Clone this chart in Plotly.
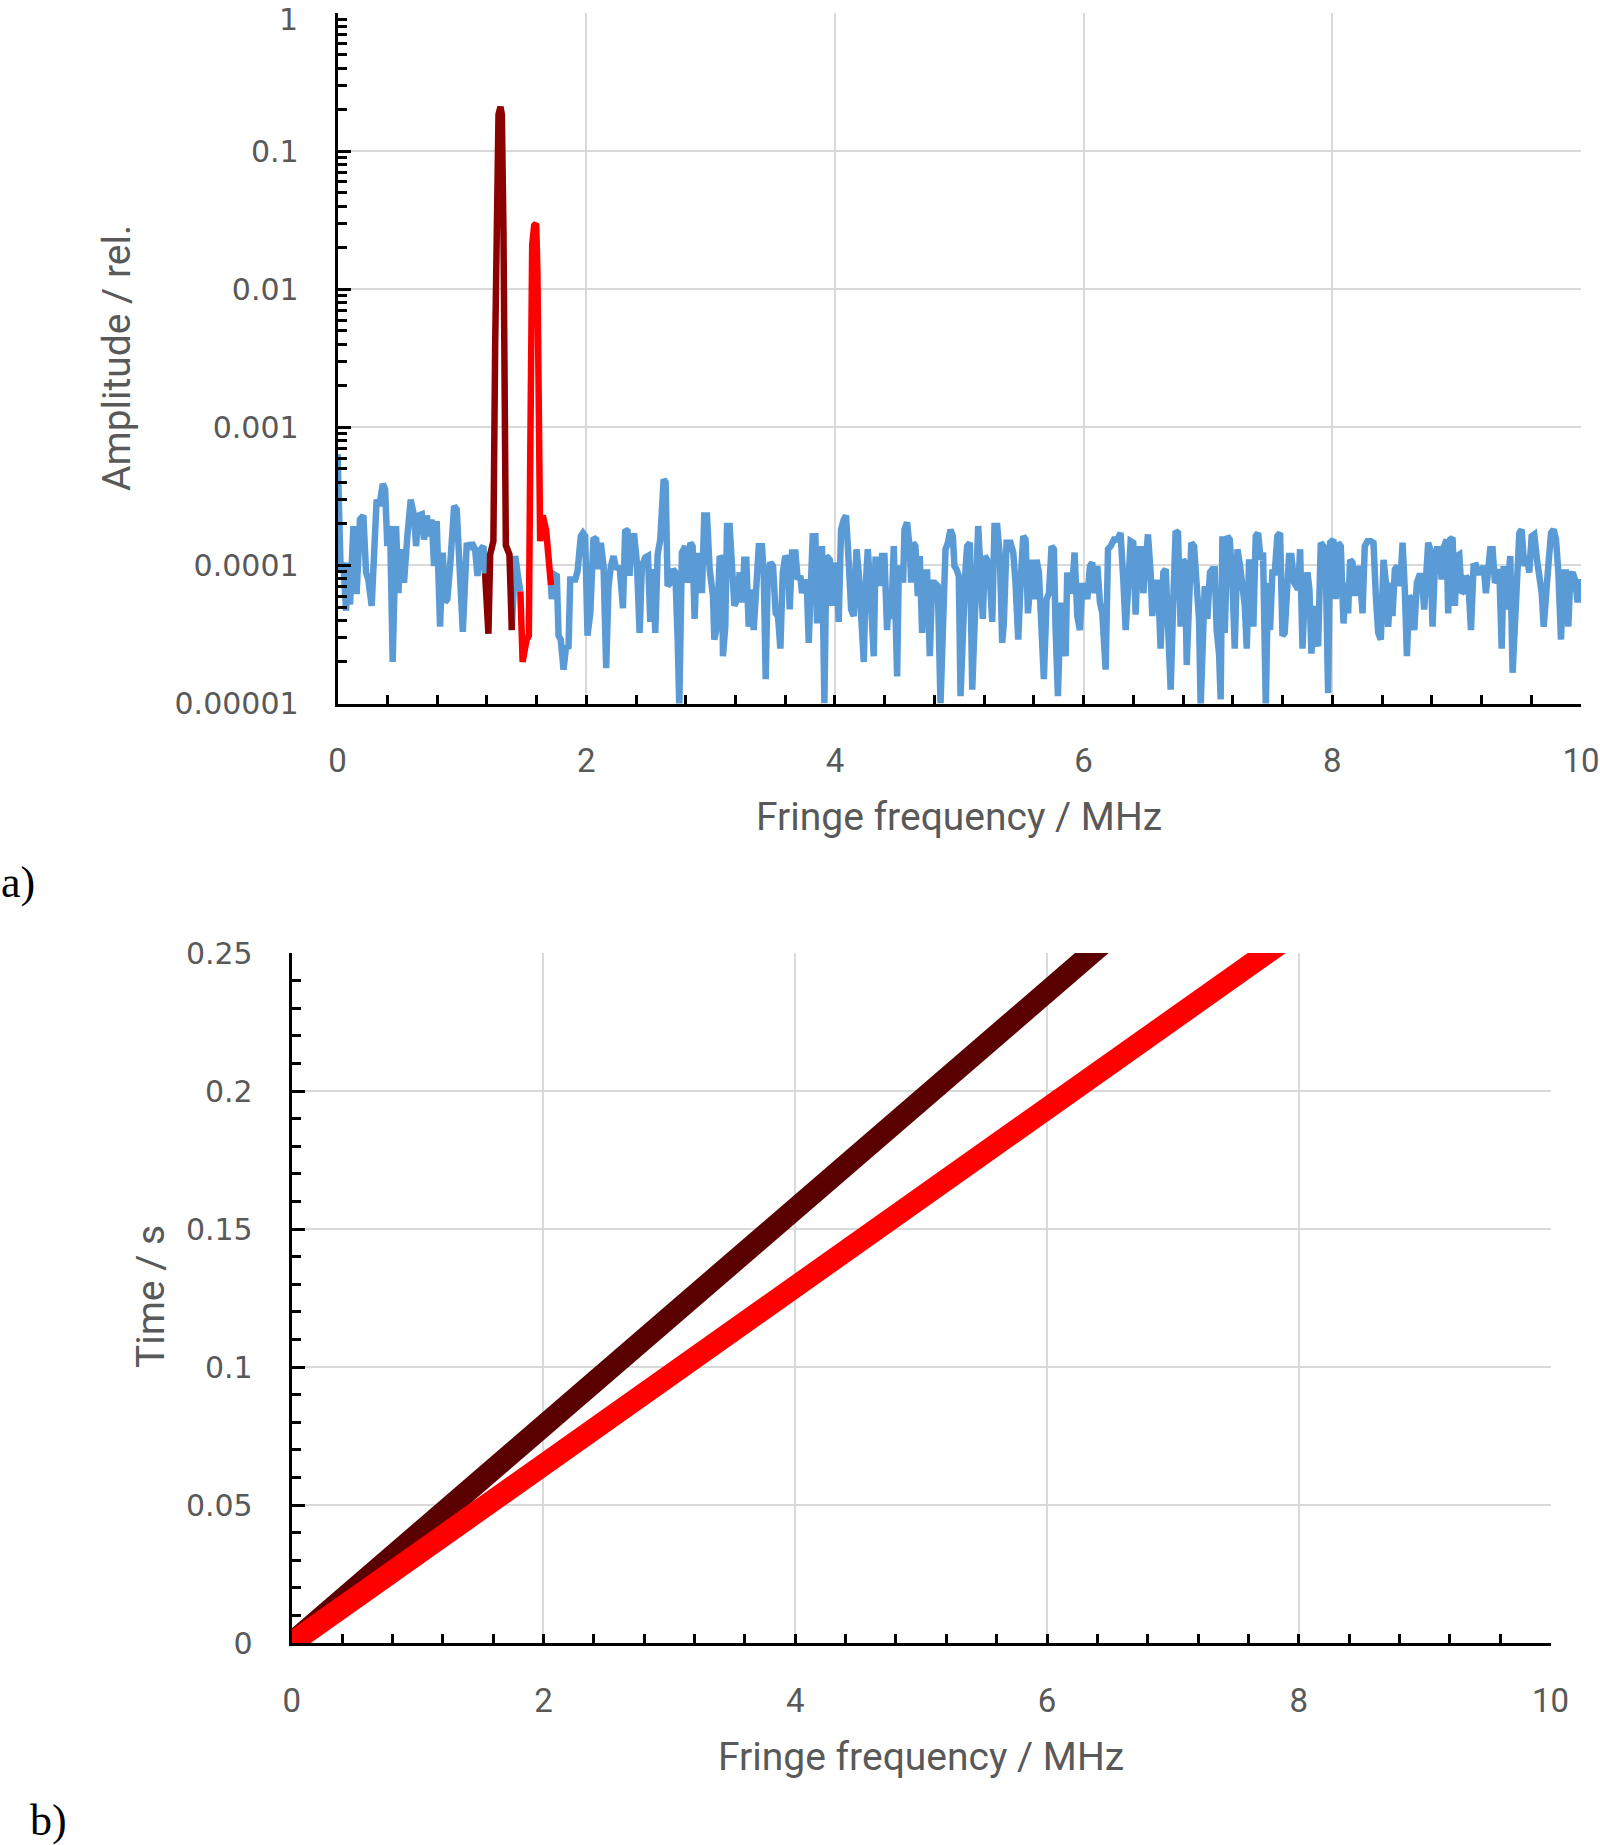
import plotly.graph_objects as go

# ---------------- Panel a) spectrum data (frequency in MHz, amplitude relative) ----------------
noise_freq_1 = [0.000, 0.025, 0.046, 0.068, 0.086, 0.100, 0.127, 0.153, 0.180, 0.207, 0.229, 0.247, 0.274, 0.301,
                0.314, 0.336, 0.363, 0.382, 0.400, 0.422, 0.443, 0.470, 0.489, 0.508, 0.534, 0.561, 0.588, 0.615,
                0.631, 0.650, 0.677, 0.695, 0.717, 0.738, 0.757, 0.776, 0.797, 0.824, 0.846, 0.864, 0.883, 0.905,
                0.937, 0.958, 0.980, 1.007, 1.039, 1.060, 1.079, 1.106, 1.125, 1.152, 1.173, 1.186]
noise_amp_1 = [6.4e-4, 8.9e-5, 1.05e-4, 4.7e-5, 1.05e-4, 5.2e-5, 1.93e-4, 6.2e-5, 2.15e-4, 2.3e-4, 8.9e-5, 7.9e-5,
               5.1e-5, 2.8e-4, 3.0e-4, 2.7e-4, 3.9e-4, 3.56e-4, 1.38e-4, 1.93e-4, 2.0e-5, 1.93e-4, 6.3e-5, 1.31e-4,
               7.5e-5, 1.63e-4, 3.0e-4, 2.3e-4, 1.38e-4, 2.3e-4, 2.35e-4, 1.54e-4, 2.3e-4, 1.63e-4, 2.15e-4, 9.9e-5,
               2.1e-4, 3.6e-5, 1.24e-4, 5.4e-5, 5.7e-5, 9.9e-5, 2.7e-4, 2.55e-4, 7.9e-5, 3.3e-5, 1.46e-4, 1.31e-4,
               1.46e-4, 1.31e-4, 8.4e-5, 1.31e-4, 1.38e-4, 8.8e-5]

noise_freq_2 = [1.401, 1.428, 1.455, 1.470]
noise_amp_2 = [3.4e-5, 1.17e-4, 7.9e-5, 6.5e-5]

noise_freq_3 = [1.716, 1.723, 1.742, 1.763, 1.777, 1.795, 1.817, 1.838, 1.857, 1.871,
                1.911, 1.930, 1.956, 1.973, 1.991, 2.010, 2.032, 2.058, 2.080, 2.099,
                2.117, 2.139, 2.160, 2.179, 2.198, 2.219, 2.241, 2.268, 2.295, 2.313,
                2.332, 2.348, 2.367, 2.386, 2.407, 2.429, 2.447, 2.474, 2.496, 2.515,
                2.536, 2.555, 2.574, 2.595, 2.622, 2.638, 2.654, 2.676, 2.697, 2.716,
                2.735, 2.748, 2.769, 2.796, 2.815, 2.837, 2.855, 2.871, 2.890, 2.912,
                2.930, 2.949, 2.971, 2.992, 3.019, 3.030, 3.051, 3.073, 3.091, 3.099,
                3.118, 3.132, 3.153, 3.172, 3.191, 3.212, 3.234, 3.255, 3.271, 3.287,
                3.306, 3.325, 3.346, 3.368, 3.387, 3.413, 3.427, 3.443, 3.459, 3.480,
                3.502, 3.523, 3.542, 3.561, 3.580, 3.601, 3.620, 3.636, 3.655, 3.682,
                3.700, 3.722, 3.735, 3.754, 3.776, 3.789, 3.802, 3.821, 3.843, 3.856,
                3.878, 3.896, 3.915, 3.931, 3.958]
noise_amp_3 = [7.2e-5, 5.7e-5, 8.6e-5, 8.4e-5, 3.1e-5, 2.9e-5, 1.76e-5, 2.6e-5, 2.5e-5, 7.9e-5,
               7.9e-5, 9.1e-5, 1.63e-4, 1.72e-4, 1.63e-4, 3.1e-5, 4.5e-5, 1.59e-4, 1.54e-4, 9.4e-5,
               1.46e-4, 9.9e-5, 1.8e-5, 7.1e-5, 9.9e-5, 1.17e-4, 9.4e-5, 9.9e-5, 4.9e-5, 1.82e-4,
               1.77e-4, 8.4e-5, 1.63e-4, 1.63e-4, 1.05e-4, 3.25e-5, 9.9e-5, 1.14e-4, 1.17e-4, 3.9e-5,
               9.4e-5, 3.25e-5, 1.2e-4, 1.54e-4, 4.2e-4, 4.0e-4, 7.1e-5, 7.5e-5, 9.4e-5, 8.9e-5,
               2.9e-5, 9.5e-6, 1.24e-4, 1.38e-4, 7.5e-5, 1.46e-4, 1.38e-4, 4.1e-5, 1.17e-4, 1.17e-4,
               6.3e-5, 2.3e-4, 2.3e-4, 9.4e-5, 6.0e-5, 2.9e-5, 3.6e-5, 1.17e-4, 1.1e-4, 2.2e-5,
               3.6e-5, 1.93e-4, 1.93e-4, 1.05e-4, 5.1e-5, 5.7e-5, 8.9e-5, 5.4e-5, 1.1e-4, 1.1e-4,
               3.6e-5, 6.7e-5, 3.4e-5, 7.1e-5, 1.38e-4, 1.38e-4, 8.9e-5, 1.5e-5, 7.9e-5, 1.05e-4,
               9.9e-5, 4.5e-5, 4.3e-5, 2.5e-5, 8.9e-5, 1.17e-4, 1.1e-4, 4.8e-5, 1.24e-4, 1.24e-4,
               7.9e-5, 8.4e-5, 6.3e-5, 7.9e-5, 6.3e-5, 2.75e-5, 8.9e-5, 1.63e-4, 1.63e-4, 3.8e-5,
               1.31e-4, 1.31e-4, 1.0e-5, 1.17e-4, 1.1e-4]

noise_freq_4 = [3.977, 3.996, 4.012, 4.030, 4.049, 4.071, 4.089, 4.111, 4.130, 4.151,
                4.173, 4.191, 4.210, 4.232, 4.245, 4.264, 4.280, 4.299, 4.312, 4.326,
                4.344, 4.366, 4.379, 4.398, 4.419, 4.433, 4.452, 4.473, 4.487, 4.500,
                4.513, 4.532, 4.548, 4.559, 4.580, 4.602, 4.613, 4.629, 4.647, 4.666,
                4.682, 4.701, 4.720, 4.741, 4.763, 4.782, 4.800, 4.827, 4.849, 4.862,
                4.881, 4.889, 4.908, 4.929, 4.948, 4.961, 4.977, 4.996, 5.010, 5.031,
                5.050, 5.063, 5.085, 5.104, 5.122, 5.136, 5.152, 5.171, 5.189, 5.206,
                5.224, 5.246, 5.265, 5.283, 5.305, 5.326, 5.345, 5.358, 5.380, 5.412,
                5.434, 5.452, 5.474, 5.493, 5.514, 5.533, 5.552, 5.573, 5.587, 5.600,
                5.621, 5.640, 5.659, 5.680, 5.702, 5.721, 5.742, 5.761, 5.774, 5.793,
                5.815, 5.836, 5.855, 5.868, 5.890, 5.909, 5.927, 5.949, 5.970]
noise_amp_4 = [5.1e-5, 7.9e-5, 1.05e-4, 3.9e-5, 1.82e-4, 2.15e-4, 2.3e-4, 1.05e-4, 4.8e-5, 4.3e-5,
               1.31e-4, 8.9e-5, 3.25e-5, 2.0e-5, 6.7e-5, 1.31e-4, 7.9e-5, 4.3e-5, 2.2e-5, 1.1e-4,
               1.1e-4, 7.1e-5, 1.17e-4, 1.17e-4, 3.4e-5, 6.0e-5, 4.1e-5, 1.38e-4, 6.3e-5, 1.57e-5,
               8.9e-5, 9.9e-5, 7.5e-5, 1.82e-4, 2.05e-4, 1.31e-4, 7.5e-5, 1.46e-4, 1.38e-4, 6.0e-5,
               1.17e-4, 3.25e-5, 8.9e-5, 8.9e-5, 2.2e-5, 7.5e-5, 7.5e-5, 7.1e-5, 1.0e-5, 2.9e-5,
               5.4e-5, 1.31e-4, 1.46e-4, 1.82e-4, 1.63e-4, 9.9e-5, 9.4e-5, 8.4e-5, 1.13e-5, 5.7e-5,
               9.4e-5, 1.38e-4, 1.46e-4, 1.26e-5, 4.3e-5, 1.31e-4, 1.93e-4, 8.9e-5, 4.1e-5, 1.17e-4,
               1.1e-4, 7.9e-5, 3.9e-5, 1.93e-4, 1.93e-4, 1.17e-4, 2.75e-5, 3.8e-5, 1.46e-4, 1.46e-4,
               1.24e-4, 7.5e-5, 2.9e-5, 7.5e-5, 1.63e-4, 1.54e-4, 4.5e-5, 7.9e-5, 1.1e-4, 5.7e-5,
               1.1e-4, 8.9e-5, 4.1e-5, 1.5e-5, 5.7e-5, 6.3e-5, 1.38e-4, 1.31e-4, 3.6e-5, 1.13e-5,
               5.1e-5, 5.1e-5, 2.2e-5, 8.9e-5, 6.3e-5, 7.1e-5, 1.24e-4, 4.3e-5, 3.4e-5]

noise_freq_5 = [5.989, 6.008, 6.029, 6.051, 6.069, 6.088, 6.110, 6.131, 6.150, 6.177,
                6.196, 6.217, 6.244, 6.271, 6.297, 6.319, 6.338, 6.357, 6.378, 6.399,
                6.418, 6.437, 6.458, 6.480, 6.499, 6.517, 6.539, 6.552, 6.571, 6.598,
                6.619, 6.641, 6.660, 6.678, 6.700, 6.721, 6.740, 6.759, 6.780, 6.799,
                6.815, 6.829, 6.847, 6.866, 6.888, 6.907, 6.928, 6.941, 6.955, 6.974,
                6.995, 7.016, 7.035, 7.054, 7.070, 7.089, 7.102, 7.116, 7.135, 7.156,
                7.175, 7.196, 7.215, 7.237, 7.258, 7.277, 7.296, 7.312, 7.330, 7.349,
                7.365, 7.384, 7.403, 7.424, 7.443, 7.465, 7.483, 7.499, 7.518, 7.537,
                7.558, 7.580, 7.599, 7.617, 7.634, 7.652, 7.671, 7.693, 7.725, 7.741,
                7.760, 7.778, 7.800, 7.816, 7.832, 7.848, 7.867, 7.886, 7.907, 7.929,
                7.948, 7.966, 7.982]
noise_amp_5 = [7.1e-5, 7.1e-5, 5.7e-5, 9.9e-5, 1.05e-4, 6.3e-5, 9.9e-5, 5.4e-5, 4.5e-5, 1.76e-5,
               1.31e-4, 1.38e-4, 1.54e-4, 1.54e-4, 1.72e-4, 7.9e-5, 3.4e-5, 6.7e-5, 1.5e-4, 1.46e-4,
               4.4e-5, 1.31e-4, 1.31e-4, 6.3e-5, 1.31e-4, 1.68e-4, 8.9e-5, 4.3e-5, 7.5e-5, 7.5e-5,
               2.5e-5, 8.9e-5, 9.4e-5, 2.9e-5, 1.26e-5, 5.7e-5, 1.77e-4, 1.72e-4, 3.6e-5, 1.1e-4,
               1.05e-4, 1.9e-5, 7.5e-5, 1.46e-4, 1.38e-4, 7.9e-5, 4.1e-5, 9.5e-6, 3.4e-5, 7.1e-5,
               4.1e-5, 8.9e-5, 9.4e-5, 9.4e-5, 3.4e-5, 2.3e-5, 1.07e-5, 1.63e-4, 3.25e-5, 1.63e-4,
               1.54e-4, 7.9e-5, 2.5e-5, 1.31e-4, 9.9e-5, 6.7e-5, 5.1e-5, 2.5e-5, 1.05e-4, 1.05e-4,
               3.6e-5, 1.63e-4, 1.72e-4, 1.1e-4, 1.24e-4, 9.5e-6, 7.5e-5, 3.4e-5, 8.9e-5, 8.9e-5,
               1.63e-4, 1.72e-4, 3.1e-5, 3.25e-5, 7.9e-5, 1.17e-4, 1.17e-4, 7.5e-5, 6.7e-5, 1.31e-4,
               2.5e-5, 6.0e-5, 8.9e-5, 6.7e-5, 2.3e-5, 5.1e-5, 2.9e-5, 2.6e-5, 1.46e-4, 1.38e-4,
               8.9e-5, 1.19e-5, 1.46e-4]

noise_freq_6 = [8.009, 8.028, 8.047, 8.068, 8.090, 8.109, 8.127, 8.143, 8.162, 8.181,
                8.202, 8.224, 8.243, 8.261, 8.283, 8.310, 8.331, 8.350, 8.369, 8.390,
                8.412, 8.431, 8.449, 8.471, 8.484, 8.503, 8.524, 8.546, 8.565, 8.583,
                8.600, 8.618, 8.637, 8.659, 8.680, 8.699, 8.718, 8.739, 8.752, 8.771,
                8.787, 8.806, 8.825, 8.841, 8.860, 8.879, 8.900, 8.919, 8.932, 8.948,
                8.967, 8.986, 9.002, 9.021, 9.040, 9.056, 9.074, 9.093, 9.115, 9.136,
                9.155, 9.174, 9.195, 9.217, 9.235, 9.254, 9.270, 9.289, 9.308, 9.324,
                9.343, 9.362, 9.378, 9.396, 9.415, 9.431, 9.450, 9.469, 9.485, 9.504,
                9.522, 9.544, 9.565, 9.584, 9.603, 9.624, 9.646, 9.665, 9.684, 9.700,
                9.718, 9.737, 9.759, 9.780, 9.799, 9.818, 9.839, 9.861, 9.879, 9.898,
                9.914, 9.933, 9.952, 9.973, 9.995, 10.0]
noise_amp_6 = [1.54e-4, 5.7e-5, 1.46e-4, 1.38e-4, 3.8e-5, 7.5e-5, 4.5e-5, 1.1e-4, 1.05e-4, 6.0e-5,
               9.9e-5, 7.9e-5, 4.5e-5, 1.38e-4, 1.5e-4, 1.5e-4, 1.46e-4, 6.0e-5, 3.25e-5, 2.9e-5,
               1.1e-4, 7.5e-5, 3.6e-5, 7.5e-5, 4.3e-5, 9.4e-5, 9.9e-5, 7.1e-5, 1.46e-4, 6.7e-5,
               2.2e-5, 6.0e-5, 5.7e-5, 3.4e-5, 7.5e-5, 8.4e-5, 8.4e-5, 4.8e-5, 9.9e-5, 1.46e-4,
               1.31e-4, 3.6e-5, 9.9e-5, 1.31e-4, 1.31e-4, 7.9e-5, 1.38e-4, 1.54e-4, 4.5e-5, 1.54e-4,
               1.59e-4, 5.1e-5, 1.17e-4, 1.2e-4, 6.3e-5, 6.5e-5, 8.4e-5, 7.9e-5, 3.4e-5, 9.9e-5,
               1.0e-4, 8.9e-5, 8.9e-5, 9.9e-5, 6.3e-5, 9.9e-5, 1.31e-4, 1.31e-4, 7.5e-5, 7.9e-5,
               9.4e-5, 2.5e-5, 9.9e-5, 4.8e-5, 9.9e-5, 1.17e-4, 1.67e-5, 4.5e-5, 9.4e-5, 1.72e-4,
               1.82e-4, 9.9e-5, 1.17e-4, 8.9e-5, 1.63e-4, 1.68e-4, 1.1e-4, 7.9e-5, 6.3e-5, 3.6e-5,
               7.5e-5, 9.9e-5, 1.72e-4, 1.82e-4, 1.54e-4, 8.9e-5, 2.9e-5, 8.9e-5, 8.9e-5, 3.6e-5,
               8.4e-5, 8.9e-5, 7.9e-5, 5.4e-5, 7.9e-5, 7.5e-5]

peak1_freq = [1.186, 1.213, 1.227, 1.253, 1.267, 1.280, 1.294, 1.310, 1.321, 1.334, 1.345, 1.353, 1.382, 1.401]
peak1_amp = [8.8e-5, 3.2e-5, 1.2e-4, 1.5e-4, 3.8e-3, 4.9e-2, 0.185, 0.21, 0.185, 0.026, 2.0e-3, 1.4e-4, 1.2e-4, 3.4e-5]

peak2_freq = [1.470, 1.488, 1.520, 1.538, 1.549, 1.557, 1.565, 1.581, 1.597, 1.607, 1.618, 1.629, 1.650, 1.677, 1.716]
peak2_amp = [6.5e-5, 2.0e-5, 2.9e-5, 3.1e-5, 5.6e-4, 3.8e-3, 2.1e-2, 2.9e-2, 3.0e-2, 1.35e-2, 2.0e-3, 1.5e-4, 2.3e-4,
             1.8e-4, 7.2e-5]

amp_tickvals = [1e-5, 1e-4, 1e-3, 1e-2, 1e-1, 1]
amp_ticktext = ["0.00001", "0.0001", "0.001", "0.01", "0.1", ""]   # the "1" label is placed as an annotation
amp_top_label = "1"

# ---------------- Panel b) fringe frequency vs time ----------------
ramp1_freq = [0.0, 6.6]
ramp1_time = [0.0, 0.2596]
ramp2_freq = [0.0, 8.0]
ramp2_time = [0.0, 0.2582]

segs_f = [noise_freq_1, noise_freq_2, noise_freq_3 + noise_freq_4 + noise_freq_5 + noise_freq_6]
segs_a = [noise_amp_1, noise_amp_2, noise_amp_3 + noise_amp_4 + noise_amp_5 + noise_amp_6]
noise_f, noise_a = [], []
for sf, sa in zip(segs_f, segs_a):
    assert len(sf) == len(sa)
    if noise_f:
        noise_f.append(None)
        noise_a.append(None)
    noise_f += sf
    noise_a += sa

W, H = 1600, 1845
def px(x):
    return x / W
def py(y):
    return 1 - y / H

BLUE = "#5B9BD5"
GRAY = "#595959"
GRID = "#D9D9D9"
TICKFONT_X = dict(family="Roboto", size=33, color=GRAY)
TICKFONT_Y = dict(family="DejaVu Sans", size=30, color=GRAY)
TITLEFONT = dict(family="Roboto", size=39, color=GRAY)

fig = go.Figure()
fig.add_trace(go.Scatter(x=noise_f, y=noise_a, mode="lines", line=dict(color=BLUE, width=6.5),
                         connectgaps=False, xaxis="x", yaxis="y", showlegend=False))
fig.add_trace(go.Scatter(x=peak1_freq, y=peak1_amp, mode="lines", line=dict(color="#8B0000", width=6.5),
                         xaxis="x", yaxis="y", showlegend=False))
fig.add_trace(go.Scatter(x=peak2_freq, y=peak2_amp, mode="lines", line=dict(color="#FF0000", width=6.5),
                         xaxis="x", yaxis="y", showlegend=False))
fig.add_trace(go.Scatter(x=ramp1_freq, y=ramp1_time, mode="lines", line=dict(color="#5A0000", width=22),
                         xaxis="x2", yaxis="y2", showlegend=False))
fig.add_trace(go.Scatter(x=ramp2_freq, y=ramp2_time, mode="lines", line=dict(color="#FF0000", width=22),
                         xaxis="x2", yaxis="y2", showlegend=False))

common_x = dict(range=[0, 10], tick0=0, dtick=2, ticks="inside", ticklen=9, tickwidth=2.5, tickcolor="black",
                showline=True, linecolor="black", linewidth=3, showgrid=True, gridcolor=GRID, gridwidth=2,
                zeroline=False, tickfont=TICKFONT_X, ticklabelstandoff=26, ticklabeloverflow="allow",
                minor=dict(tick0=0, dtick=0.4, ticks="inside", ticklen=9, tickwidth=2.5, tickcolor="black",
                           showgrid=False))

minor_log = [m * 10.0 ** e for e in range(-5, 0) for m in range(2, 10)]

fig.update_layout(
    width=W, height=H, autosize=False,
    margin=dict(l=0, r=0, t=0, b=0, pad=0, autoexpand=False),
    paper_bgcolor="white", plot_bgcolor="white",
    xaxis=dict(domain=[px(337.6), px(1581)], anchor="y", **common_x),
    yaxis=dict(domain=[py(703.5), py(13.3)], anchor="x", type="log", range=[-5, 0],
               tickvals=amp_tickvals, ticktext=amp_ticktext, ticks="inside", ticklen=13, tickwidth=2.5,
               tickcolor="black", showline=True, linecolor="black", linewidth=3, showgrid=True,
               gridcolor=GRID, gridwidth=2, zeroline=False, tickfont=TICKFONT_Y, ticklabelstandoff=30,
               ticklabeloverflow="allow",
               minor=dict(tickvals=minor_log, ticks="inside", ticklen=9, tickwidth=2.5, tickcolor="black",
                          showgrid=False)),
    xaxis2=dict(domain=[px(291.7), px(1550.6)], anchor="y2", **common_x),
    yaxis2=dict(domain=[py(1643), py(953)], anchor="x2", range=[0, 0.25], tick0=0, dtick=0.05,
                ticks="inside", ticklen=13, tickwidth=2.5, tickcolor="black", showline=True,
                linecolor="black", linewidth=3, showgrid=True, gridcolor=GRID, gridwidth=2, zeroline=False,
                tickfont=TICKFONT_Y, ticklabelstandoff=30, ticklabeloverflow="allow",
                minor=dict(tick0=0, dtick=0.01, ticks="inside", ticklen=9, tickwidth=2.5, tickcolor="black",
                           showgrid=False)),
    annotations=[
        dict(text=amp_top_label, x=px(299), y=py(1), xref="paper", yref="paper", xanchor="right",
             yanchor="top", showarrow=False, font=TICKFONT_Y, borderpad=0),
        dict(text="Fringe frequency / MHz", x=px(959), y=py(816.5), xref="paper", yref="paper",
             xanchor="center", yanchor="middle", showarrow=False, font=TITLEFONT),
        dict(text="Amplitude / rel.", x=px(117.6), y=py(358.4), xref="paper", yref="paper",
             xanchor="center", yanchor="middle", showarrow=False, font=TITLEFONT, textangle=-90),
        dict(text="Fringe frequency / MHz", x=px(921), y=py(1756.5), xref="paper", yref="paper",
             xanchor="center", yanchor="middle", showarrow=False, font=TITLEFONT),
        dict(text="Time / s", x=px(150.6), y=py(1296.5), xref="paper", yref="paper",
             xanchor="center", yanchor="middle", showarrow=False, font=TITLEFONT, textangle=-90),
        dict(text="a)", x=px(0), y=py(882), xref="paper", yref="paper", xanchor="left", yanchor="middle",
             showarrow=False, font=dict(family="Liberation Serif", size=44, color="black"), borderpad=0),
        dict(text="b)", x=px(28), y=py(1820), xref="paper", yref="paper", xanchor="left", yanchor="middle",
             showarrow=False, font=dict(family="Liberation Serif", size=44, color="black")),
    ],
)

fig.write_html("out.html")
